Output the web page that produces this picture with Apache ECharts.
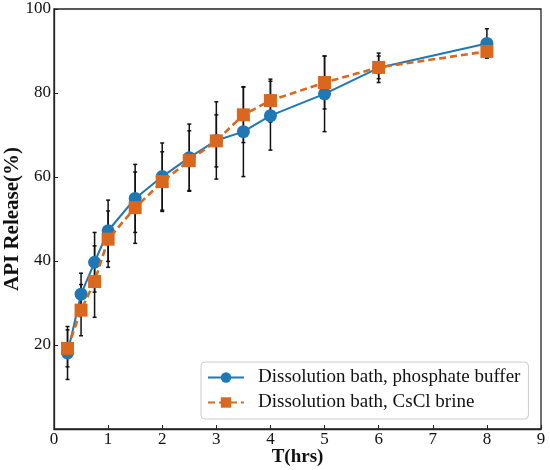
<!DOCTYPE html>
<html>
<head>
<meta charset="utf-8">
<script src="https://cdn.jsdelivr.net/npm/echarts@6/dist/echarts.min.js"></script>
<style>
    html, body { margin: 0; padding: 0; background: #fff; }
    #chart { width: 550px; height: 470px; }
</style>
</head>
<body>
<div id="chart"></div>
<script>
// time points (hrs)
var times = [0.25, 0.5, 0.75, 1, 1.5, 2, 2.5, 3, 3.5, 4, 5, 6, 8];
// phosphate buffer
var phosMean = [18.1, 32.1, 39.7, 47.2, 54.9, 60.1, 64.6, 68.7, 70.8, 74.6, 79.8, 86.0, 91.8];
var phosErr = [6.3, 5.0, 7.1, 7.3, 8.1, 8.0, 8.0, 9.2, 10.7, 8.2, 9.0, 3.5, 3.5];
// CsCl brine
var brineMean = [19.2, 28.3, 35.1, 45.2, 52.7, 58.9, 63.9, 68.6, 74.8, 78.2, 82.5, 86.1, 89.9];
var brineErr = [4.4, 6.1, 8.5, 6.7, 8.5, 7.1, 7.1, 6.2, 6.6, 5.1, 6.3, 2.7, 1.4];

var xTicks = [0, 1, 2, 3, 4, 5, 6, 7, 8, 9];
var yTicks = [20, 40, 60, 80, 100];

var blue = '#1f77b4';
var orange = '#d9681e';
var font = 'Liberation Serif';

function pairs(xs, ys) {
    var out = [];
    for (var i = 0; i < xs.length; i++) out.push([xs[i], ys[i]]);
    return out;
}

function errData(xs, ys, es) {
    var out = [];
    for (var i = 0; i < xs.length; i++) out.push([xs[i], ys[i], es[i]]);
    return out;
}

// vertical error bar with small caps
function renderErr(params, api) {
    var x = api.value(0), y = api.value(1), e = api.value(2);
    var hi = api.coord([x, y + e]);
    var lo = api.coord([x, y - e]);
    var cap = 2;
    var style = { stroke: '#111', lineWidth: 1.5 };
    return {
        type: 'group',
        children: [
            { type: 'line', shape: { x1: hi[0], y1: hi[1], x2: lo[0], y2: lo[1] }, style: style },
            { type: 'line', shape: { x1: hi[0] - cap, y1: hi[1], x2: hi[0] + cap, y2: hi[1] }, style: style },
            { type: 'line', shape: { x1: lo[0] - cap, y1: lo[1], x2: lo[0] + cap, y2: lo[1] }, style: style }
        ]
    };
}

var myChart = echarts.init(document.getElementById('chart'));
var option = {
    animation: false,
    backgroundColor: '#fff',
    grid: {
        left: 54, right: 9, top: 9, bottom: 41,
        outerBoundsMode: 'none',
        containLabel: false,
        show: true,
        borderColor: '#222',
        borderWidth: 1.3
    },
    legend: {
        orient: 'vertical',
        left: 201,
        top: 362,
        padding: [6, 8, 7, 6],
        itemGap: 6,
        itemWidth: 36,
        itemHeight: 13,
        backgroundColor: '#fff',
        borderColor: '#cccccc',
        borderWidth: 1,
        borderRadius: 4,
        textStyle: { fontFamily: font, fontSize: 19, color: '#111', padding: [0, 0, 0, 9] },
        data: ['Dissolution bath, phosphate buffer', 'Dissolution bath, CsCl brine']
    },
    xAxis: {
        type: 'value',
        min: 0, max: 9, interval: 1,
        name: 'T(hrs)',
        nameLocation: 'middle',
        nameGap: 19,
        nameMoveOverlap: false,
        nameTextStyle: { fontFamily: font, fontSize: 19, fontWeight: 'bold', color: '#111' },
        axisLine: { show: true, lineStyle: { color: '#222', width: 1.3 } },
        axisTick: { show: true, inside: true, length: 4, lineStyle: { color: '#222' } },
        axisLabel: {
            fontFamily: font, fontSize: 17, color: '#111', margin: 2,
            formatter: function (v) { return xTicks.indexOf(v) >= 0 ? String(v) : ''; }
        },
        splitLine: { show: false }
    },
    yAxis: {
        type: 'value',
        min: 0, max: 100, interval: 20,
        name: 'API Release(%)',
        nameLocation: 'middle',
        nameGap: 31,
        nameMoveOverlap: false,
        nameTextStyle: { fontFamily: font, fontSize: 21, fontWeight: 'bold', color: '#111' },
        axisLine: { show: true, lineStyle: { color: '#222', width: 1.3 } },
        axisTick: { show: true, inside: true, length: 4, lineStyle: { color: '#222' } },
        axisLabel: {
            fontFamily: font, fontSize: 17, color: '#111', margin: 3,
            formatter: function (v) { return yTicks.indexOf(v) >= 0 ? String(v) : ''; }
        },
        splitLine: { show: false }
    },
    series: [
        {
            type: 'custom',
            renderItem: renderErr,
            data: errData(times, phosMean, phosErr),
            encode: { x: 0, y: [1, 2] },
            z: 1,
            silent: true
        },
        {
            type: 'custom',
            renderItem: renderErr,
            data: errData(times, brineMean, brineErr),
            encode: { x: 0, y: [1, 2] },
            z: 1,
            silent: true
        },
        {
            name: 'Dissolution bath, phosphate buffer',
            type: 'line',
            data: pairs(times, phosMean),
            symbol: 'circle',
            symbolSize: 13,
            lineStyle: { color: blue, width: 2 },
            itemStyle: { color: blue },
            z: 3
        },
        {
            name: 'Dissolution bath, CsCl brine',
            type: 'line',
            data: pairs(times, brineMean),
            symbol: 'rect',
            symbolSize: 13,
            lineStyle: { color: orange, width: 2.6, type: [7, 4] },
            itemStyle: { color: orange },
            z: 4
        }
    ]
};
myChart.setOption(option);
</script>
</body>
</html>
